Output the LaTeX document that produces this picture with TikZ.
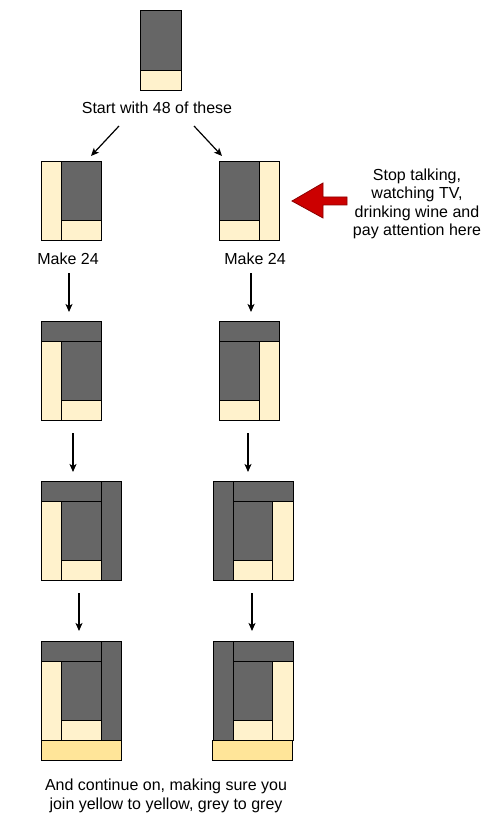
\documentclass[tikz,border=0pt]{standalone}
\usepackage{fontspec}
\setmainfont{Liberation Sans}
\usetikzlibrary{arrows.meta}
\definecolor{dk}{HTML}{666666}
\definecolor{lt}{HTML}{FFF2CC}
\definecolor{gold}{HTML}{FFE599}
\definecolor{redfill}{HTML}{CC0000}
\definecolor{redline}{HTML}{8B0000}
\tikzset{
  piece/.style={draw=black, line width=0.9pt},
  arr/.style={-{Stealth[length=8pt,width=7pt,inset=2pt]}, line width=1.2pt},
  lbl/.style={font=\fontsize{16}{18.4}\selectfont, align=center, inner sep=0pt},
}
\newcommand\pc[5]{\fill[#5] (#1,#2) rectangle (#3,#4); \draw[piece] (#1,#2) rectangle (#3,#4);}
\begin{document}
\begin{tikzpicture}[x=1pt,y=-1pt]
\useasboundingbox (0,0) rectangle (502,834);
% top block
\pc{140}{10}{181}{70}{dk}
\pc{140}{70}{181}{90}{lt}
\node[lbl] (start) at (157,108) {Start with 48 of these};
% row 2 left
\pc{41}{161}{61}{240}{lt}
\pc{61}{161}{101}{220}{dk}
\pc{61}{220}{101}{240}{lt}
% row 2 right
\pc{219}{161}{259}{220}{dk}
\pc{219}{220}{259}{240}{lt}
\pc{259}{161}{279}{240}{lt}
\node[lbl] (mkL) at (68,259) {Make 24};
\node[lbl] (mkR) at (255,259) {Make 24};
% red arrow and note
\filldraw[fill=redfill, draw=redline, line width=0.8pt]
  (292,201) coordinate (redtip) -- (323,183) -- (323,197) -- (347,197) -- (347,205) -- (323,205) -- (323,218) -- cycle;
\node[lbl] (note) at (417,204) {Stop talking,\\watching TV,\\drinking wine and\\pay attention here};
% row 3 left
\pc{41}{321}{101}{341}{dk}
\pc{41}{341}{61}{420}{lt}
\pc{61}{341}{101}{400}{dk}
\pc{61}{400}{101}{420}{lt}
% row 3 right
\pc{219}{321}{279}{341}{dk}
\pc{219}{341}{259}{400}{dk}
\pc{219}{400}{259}{420}{lt}
\pc{259}{341}{279}{420}{lt}
% row 4 left
\pc{41}{481}{101}{501}{dk}
\pc{101}{481}{121}{580}{dk}
\pc{41}{501}{61}{580}{lt}
\pc{61}{501}{101}{560}{dk}
\pc{61}{560}{101}{580}{lt}
% row 4 right
\pc{213}{481}{233}{580}{dk}
\pc{233}{481}{293}{501}{dk}
\pc{233}{501}{272}{560}{dk}
\pc{233}{560}{272}{580}{lt}
\pc{272}{501}{293}{580}{lt}
% row 5 left
\pc{41}{641}{101}{661}{dk}
\pc{101}{641}{121}{740}{dk}
\pc{41}{661}{61}{740}{lt}
\pc{61}{661}{101}{720}{dk}
\pc{61}{720}{101}{740}{lt}
\pc{41}{740}{121}{760}{gold}
% row 5 right
\pc{213}{641}{233}{740}{dk}
\pc{233}{641}{293}{661}{dk}
\pc{233}{661}{272}{720}{dk}
\pc{233}{720}{272}{740}{lt}
\pc{272}{661}{293}{740}{lt}
\pc{212}{740}{292}{760}{gold}
\node[lbl] (final) at (166,796) {And continue on, making sure you\\join yellow to yellow, grey to grey};
% arrow end points
\coordinate (a1s) at (119,126); \coordinate (a1e) at (91,156);
\coordinate (a2s) at (194,126); \coordinate (a2e) at (222,156);
\coordinate (b1s) at (69,273); \coordinate (b1e) at (69,312);
\coordinate (b2s) at (251,273); \coordinate (b2e) at (251,312);
\coordinate (c1s) at (73,433); \coordinate (c1e) at (73,472);
\coordinate (c2s) at (248,433); \coordinate (c2e) at (248,472);
\coordinate (d1s) at (79,593); \coordinate (d1e) at (79,631);
\coordinate (d2s) at (252,593); \coordinate (d2e) at (252,631);
\draw[arr] (a1s) -- (a1e);
\draw[arr] (a2s) -- (a2e);
\draw[arr] (b1s) -- (b1e);
\draw[arr] (b2s) -- (b2e);
\draw[arr] (c1s) -- (c1e);
\draw[arr] (c2s) -- (c2e);
\draw[arr] (d1s) -- (d1e);
\draw[arr] (d2s) -- (d2e);
\end{tikzpicture}
\end{document}
